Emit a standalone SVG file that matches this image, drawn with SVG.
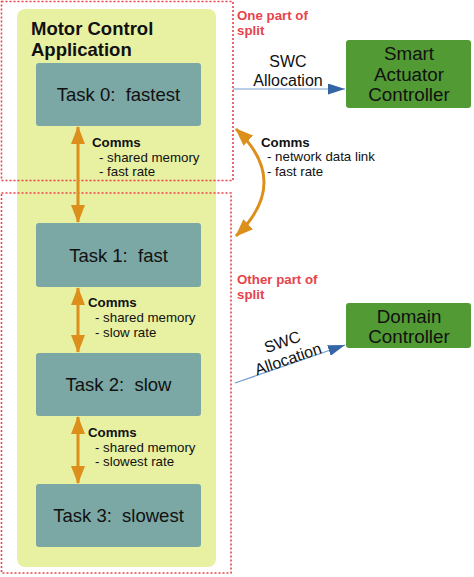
<svg xmlns="http://www.w3.org/2000/svg" width="474" height="577" viewBox="0 0 474 577">
<style>
text{font-family:"Liberation Sans",Arial,sans-serif;white-space:pre}
.split{fill:none;stroke:#e8434b;stroke-width:1.6;stroke-dasharray:2 2}
.task{fill:#7ba7a4}
.tt{font-size:18.5px;fill:#111;text-anchor:middle}
.ecu{fill:#519a34}
.et{font-size:18.8px;fill:#111;text-anchor:middle}
.cb{font-size:13.3px;font-weight:bold;fill:#111}
.c{font-size:13.3px;fill:#111}
.red{font-size:13.3px;font-weight:bold;fill:#e8434b}
.sw{font-size:16px;fill:#111;text-anchor:middle}
.oa{fill:none;stroke:#dd8f1b;stroke-width:3}
.bl{fill:none;stroke:#729fcf;stroke-width:1.2}
</style>
<defs>
<marker id="oh" viewBox="0 0 18 14" refX="17" refY="7" markerWidth="18" markerHeight="14" markerUnits="userSpaceOnUse" orient="auto-start-reverse"><path d="M0,0 L18,7 L0,14 z" fill="#dd8f1b"/></marker>
<marker id="bh" viewBox="0 0 17 11" refX="17" refY="5.5" markerWidth="17" markerHeight="11" markerUnits="userSpaceOnUse" orient="auto"><path d="M0,0 L17,5.5 L0,11 z" fill="#3465a4"/></marker>
</defs>
<g id="app">
<rect x="17" y="9" width="199" height="558" rx="8" fill="#e8f0a2"/>
<text x="31" y="35" style="font-size:18.5px;font-weight:bold;fill:#111">Motor Control</text>
<text x="31" y="56" style="font-size:18.5px;font-weight:bold;fill:#111">Application</text>
</g>
<g id="split-top">
<rect class="split" x="1.5" y="1.5" width="231.5" height="179"/>
<text class="red" x="237" y="20">One part of</text>
<text class="red" x="237" y="35">split</text>
</g>
<g id="split-bottom">
<rect class="split" x="1.5" y="193" width="229.5" height="380"/>
<text class="red" x="237" y="284">Other part of</text>
<text class="red" x="237" y="299">split</text>
</g>
<g id="task0"><rect class="task" x="36" y="63" width="165" height="63" rx="3"/><text class="tt" x="118.5" y="101">Task 0:  fastest</text></g>
<g id="task1"><rect class="task" x="36" y="223" width="165" height="64" rx="3"/><text class="tt" x="118.5" y="262">Task 1:  fast</text></g>
<g id="task2"><rect class="task" x="36" y="353" width="165" height="63" rx="3"/><text class="tt" x="118.5" y="391">Task 2:  slow</text></g>
<g id="task3"><rect class="task" x="36" y="484" width="165" height="63" rx="3"/><text class="tt" x="118.5" y="522">Task 3:  slowest</text></g>
<g id="smart-actuator">
<rect class="ecu" x="346" y="40" width="125" height="68" rx="3"/>
<text class="et" x="409" y="60">Smart</text>
<text class="et" x="409" y="80.5">Actuator</text>
<text class="et" x="409" y="101">Controller</text>
</g>
<g id="domain-controller">
<rect class="ecu" x="346" y="303" width="125" height="45" rx="3"/>
<text class="et" x="409" y="323">Domain</text>
<text class="et" x="409" y="343">Controller</text>
</g>
<g id="connectors">
<line class="oa" x1="78" y1="127" x2="78" y2="222" marker-start="url(#oh)" marker-end="url(#oh)"/>
<line class="oa" x1="78" y1="288" x2="78" y2="352" marker-start="url(#oh)" marker-end="url(#oh)"/>
<line class="oa" x1="78" y1="417" x2="78" y2="483" marker-start="url(#oh)" marker-end="url(#oh)"/>
<path class="oa" d="M236,129 Q292,182 236,236" marker-start="url(#oh)" marker-end="url(#oh)"/>
<line class="bl" x1="233" y1="89" x2="345" y2="89" marker-end="url(#bh)"/>
<line class="bl" x1="235" y1="383" x2="345" y2="345" marker-end="url(#bh)"/>
<text class="cb" x="92" y="147">Comms</text>
<text class="c" x="99" y="162">- shared memory</text>
<text class="c" x="99" y="176">- fast rate</text>
<text class="cb" x="88" y="307">Comms</text>
<text class="c" x="95" y="322">- shared memory</text>
<text class="c" x="95" y="337">- slow rate</text>
<text class="cb" x="88" y="437">Comms</text>
<text class="c" x="95" y="452">- shared memory</text>
<text class="c" x="95" y="466">- slowest rate</text>
<text class="cb" x="261" y="147">Comms</text>
<text class="c" x="267" y="161">- network data link</text>
<text class="c" x="267" y="176">- fast rate</text>
<text class="sw" x="288" y="67">SWC</text>
<text class="sw" x="288" y="86">Allocation</text>
<g transform="translate(285,350) rotate(-19)">
<text class="sw" x="0" y="-3">SWC</text>
<text class="sw" x="0" y="15">Allocation</text>
</g>
</g>
</svg>
